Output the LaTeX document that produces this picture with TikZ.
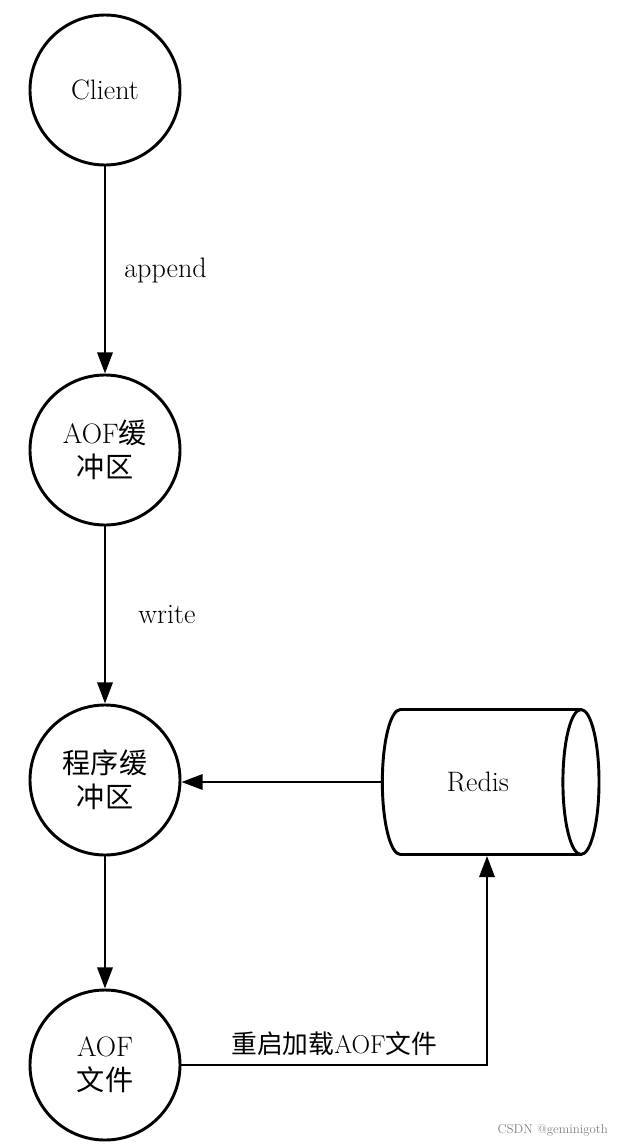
\documentclass[tikz,border=0pt]{standalone}
\usepackage{fontspec}
\newfontfamily\cjk{Noto Sans CJK SC}
\usetikzlibrary{positioning,shapes.geometric,arrows.meta}
\begin{document}
\begin{tikzpicture}[x=0.03cm,y=-0.03cm,
    state/.style={circle,draw,line width=2.5pt,minimum size=4.5cm,inner sep=0pt,align=center,font=\fontsize{24}{29}\selectfont},
    flow/.style={line width=2.2pt,-{Triangle[length=18pt,width=13pt]}}]

      \useasboundingbox (0,0) rectangle (623,1146);

      \node[state] (client) at (105,90) {Client};
      \node[state] (aofbuf) at (105,450) {AOF{\cjk 缓}\\{\cjk 冲区}};
      \node[state] (progbuf) at (105,780) {{\cjk 程序缓}\\{\cjk 冲区}};
      \node[state] (aoffile) at (105,1065) {AOF\\{\cjk 文件}};
      \node[cylinder,draw,line width=2.5pt,minimum width=4.35cm,minimum height=6.5cm,
            shape aspect=1.3,font=\fontsize{24}{29}\selectfont] (redis) at (478,782) {Redis};

      \draw[flow] (client) -- node[right=12pt,font=\fontsize{24}{29}\selectfont] {append} (aofbuf);
      \draw[flow] (aofbuf) -- node[right=24pt,font=\fontsize{24}{29}\selectfont] {write} (progbuf);
      \draw[flow] (progbuf) -- (aoffile);
      \draw[flow] (redis.west) -- (redis.west -| progbuf.east);

      \coordinate (corner) at (aoffile.east -| 487,0);
      \draw[flow] (aoffile.east) -- node[above=4pt,font=\fontsize{22}{27}\selectfont] {{\cjk 重启加载}AOF{\cjk 文件}} (corner) -- (redis.south -| corner);

      \node[anchor=south east,text=gray,font=\fontsize{11}{13}\selectfont] (mark) at (612,1140) {CSDN @geminigoth};
\end{tikzpicture}
\end{document}
